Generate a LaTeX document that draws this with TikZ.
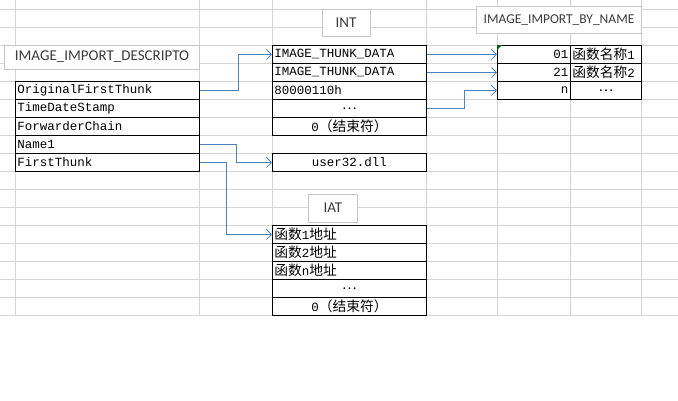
\documentclass[tikz,border=0pt]{standalone}
\usepackage{fontspec}
\setmainfont{Liberation Mono}
\newfontfamily\cjk{Noto Sans CJK SC}[Scale=1.1]
\newfontfamily\lblfont{Carlito}
\usepackage{xcolor}
\usetikzlibrary{arrows.meta}

\definecolor{gridgray}{RGB}{212,212,212}
\definecolor{linkblue}{RGB}{79,129,189}
\definecolor{lblgray}{RGB}{60,60,60}
\newcommand{\zh}[1]{{\cjk #1}}

\tikzset{
  cell/.style={draw=black, line width=0.9pt, minimum height=18pt, inner sep=2pt,
               anchor=north west, font=\fontsize{12.5}{13}\selectfont},
  lcell/.style={cell, text width=#1, align=left},
  ccell/.style={cell, text width=#1, align=center},
  rcell/.style={cell, text width=#1, align=right},
  title/.style={draw=gray!45, fill=white, line width=0.8pt, text=lblgray, inner sep=1pt,
                font=\lblfont\fontsize{15}{15}\selectfont},
  link/.style={draw=linkblue, line width=0.8pt, -{Straight Barb[length=5pt,width=10pt]}},
}

\begin{document}
\begin{tikzpicture}[x=1pt,y=-1pt]
  \useasboundingbox[fill=white] (0,0) rectangle (678,400);

  % sheet grid
  \foreach \y in {9,27,...,315}
    \draw[gridgray] (0,\y) -- (678,\y);
  \foreach \x in {15,199,272,426,497,570,641}
    \draw[gridgray] (\x,0) -- (\x,316);

  % titles
  \node[title, minimum width=195pt, minimum height=24pt] (descT) at (102,57) {IMAGE\_IMPORT\_DESCRIPTO};
  \node[title, minimum width=48pt, minimum height=27pt] (intT) at (346,23) {INT};
  \node[title, minimum width=165pt, minimum height=27pt,
        font=\lblfont\fontsize{13.5}{14}\selectfont] (nameT) at (559,20) {IMAGE\_IMPORT\_BY\_NAME};
  \node[title, minimum width=49pt, minimum height=28pt] (iatT) at (333,208) {IAT};

  % descriptor
  \node[lcell=180pt] (oft) at (15,81)  {OriginalFirstThunk};
  \node[lcell=180pt] (tds) at (15,99)  {TimeDateStamp};
  \node[lcell=180pt] (fwd) at (15,117) {ForwarderChain};
  \node[lcell=180pt] (nm)  at (15,135) {Name1};
  \node[lcell=180pt] (ft)  at (15,153) {FirstThunk};

  % INT
  \node[lcell=150pt] (int1) at (272,45)  {IMAGE\_THUNK\_DATA};
  \node[lcell=150pt] (int2) at (272,63)  {IMAGE\_THUNK\_DATA};
  \node[lcell=150pt] (int3) at (272,81)  {80000110h};
  \node[ccell=150pt] (intd) at (272,99)  {\zh{…}};
  \node[ccell=150pt] (int0) at (272,117) {0\zh{（结束符）}};
  \node[ccell=150pt] (dll)  at (272,153) {user32.dll};

  % IMAGE_IMPORT_BY_NAME
  \node[rcell=69pt] (hint1) at (497,45) {01};
  \node[rcell=69pt] (hint2) at (497,63) {21};
  \node[rcell=69pt] (hint3) at (497,81) {n};
  \node[lcell=67pt] (bn1) at (570,45) {\zh{函数名称}1};
  \node[lcell=67pt] (bn2) at (570,63) {\zh{函数名称}2};
  \node[ccell=67pt] (bn3) at (570,81) {\zh{…}};
  \fill[green!40!black] (hint1.north west) -- ++(5,0) -- ++(-5,5) -- cycle;

  % IAT
  \node[lcell=150pt] (iat1) at (272,225) {\zh{函数}1\zh{地址}};
  \node[lcell=150pt] (iat2) at (272,243) {\zh{函数}2\zh{地址}};
  \node[lcell=150pt] (iatn) at (272,261) {\zh{函数}n\zh{地址}};
  \node[ccell=150pt] (iatd) at (272,279) {\zh{…}};
  \node[ccell=150pt] (iat0) at (272,297) {0\zh{（结束符）}};

  % links
  \draw[link] (oft.east) -- ++(38,0) |- (int1.west);
  \draw[link] (int1.east) -- (hint1.west);
  \draw[link] (int2.east) -- (hint2.west);
  \draw[link] (intd.east) -- ++(37,0) |- (hint3.west);
  \draw[link] (nm.east) -- ++(36,0) |- (dll.west);
  \draw[link] (ft.east) -- ++(26,0) |- (iat1.west);
\end{tikzpicture}
\end{document}
